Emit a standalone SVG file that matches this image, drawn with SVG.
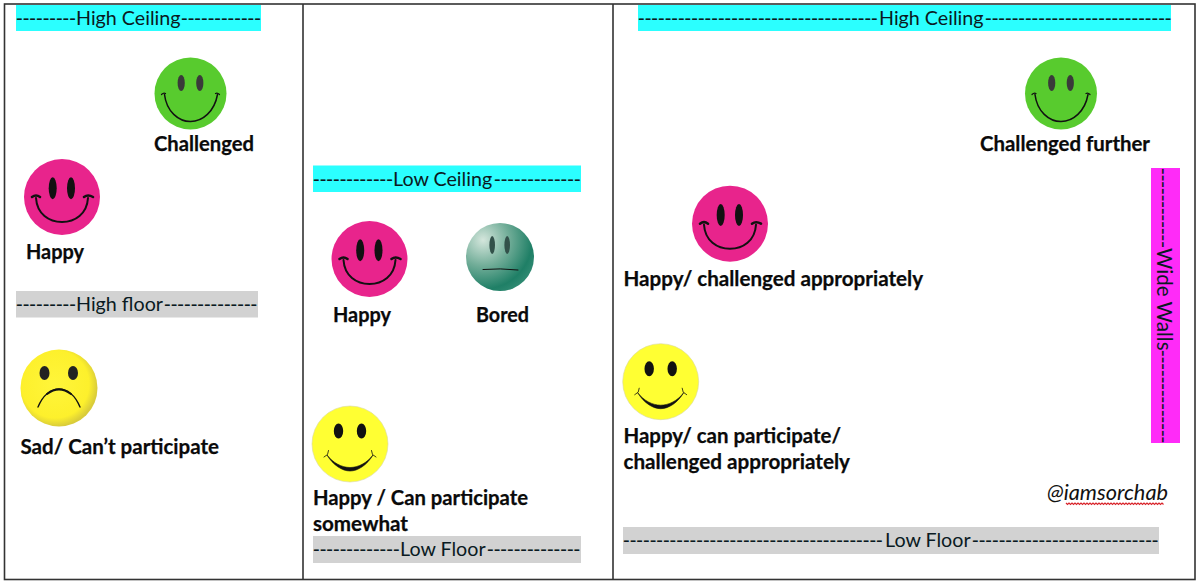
<svg xmlns="http://www.w3.org/2000/svg" width="1200" height="585" viewBox="0 0 1200 585">
<style>
.bar{font-family:Lato,"Liberation Sans",sans-serif;font-size:19.7px;fill:#0a1a22}
.d{font-family:"Liberation Sans",Arial,sans-serif;font-size:20px}
.w{font-size:20.600px}
.lb{font-family:Lato,"Liberation Sans",sans-serif;font-size:20.500px;font-weight:700;fill:#0a0a0a;stroke:#0a0a0a;stroke-width:.25}
.fr{fill:none;stroke:#333;stroke-width:1.600}
.cy{fill:#2bffff}.gy{fill:#d2d2d2}.mg{fill:#ff2bf8}
.m{fill:none;stroke:#111;stroke-linecap:round}
</style>
<defs>
<radialGradient id="gs" cx="0.45" cy="0.45" r="0.55"><stop offset="0" stop-color="#fff53a"/><stop offset="0.8" stop-color="#fdf02c"/><stop offset="1" stop-color="#d9cc3a"/></radialGradient>
<radialGradient id="gb" cx="0.25" cy="0.25" r="0.85"><stop offset="0" stop-color="#d4e6dc"/><stop offset="0.45" stop-color="#71ad98"/><stop offset="0.85" stop-color="#1f7f66"/><stop offset="1" stop-color="#2f8a72"/></radialGradient>
<g id="fPink"><circle r="38" fill="#e8248c"/><ellipse cx="-9.300" cy="-8.700" rx="4" ry="11" fill="#111"/><ellipse cx="9" cy="-8.700" rx="4" ry="11" fill="#111"/><path class="m" stroke-width="2" d="M-26 1C-25 17-13 25 0 25S25 17 26 1"/><path class="m" stroke-width="2.600" d="M-30 0Q-26-3-22 0M22 0Q26-3 31 0"/></g>
<g id="fGreen"><circle r="36" fill="#58cb2e"/><ellipse cx="-9.300" cy="-10.500" rx="3.600" ry="8" fill="#3a3a3a"/><ellipse cx="9.300" cy="-10.500" rx="3.600" ry="8" fill="#3a3a3a"/><path class="m" stroke-width="1.500" d="M-26 1C-24 18-12 28 0 28S24 18 27 1"/><path class="m" stroke-width="1.200" d="M-29 1Q-27-1-25 0M25 0Q27-1 29 1"/></g>
<g id="fYellow"><circle r="38" fill="#ffff33" stroke="#d8d8a0" stroke-width=".6"/><ellipse cx="-11.500" cy="-13" rx="4.700" ry="7.500" fill="#111"/><ellipse cx="11.500" cy="-13" rx="4.700" ry="7.500" fill="#111"/><path fill="#111" d="M-23 11C-17 21-8 27 0 27S17 21 23 11C17 19 8 23.500 0 23.500S-17 19-23 11Z" stroke="#111" stroke-width=".6"/><path class="m" stroke-width=".8" d="M-26 13L-22.500 10.500L-21.500 6.500M26 13L22.500 10.500L21.500 6.500"/></g>
<g id="fSad"><circle r="38.500" fill="url(#gs)"/><ellipse cx="-14.500" cy="-15" rx="5" ry="7" fill="#222"/><ellipse cx="14" cy="-15" rx="5" ry="7" fill="#222"/><path class="m" stroke-width="1.400" d="M-21 19C-16 7-8 1 0 1S16 7 21 19"/><path class="m" stroke-width="2" d="M-12 6Q0-3 12 6"/></g>
<g id="fBored"><circle r="34" fill="url(#gb)"/><ellipse cx="-7.800" cy="-12" rx="2.800" ry="9" fill="#33514a"/><ellipse cx="7.200" cy="-12" rx="2.800" ry="9" fill="#33514a"/><path class="m" stroke="#1c3a32" stroke-width="1" d="M-17 12.500Q0 11 18 13"/></g>
</defs>
<rect width="1200" height="585" fill="#fff"/>
<g id="frame"><rect class="fr" x="4.500" y="4" width="1190.500" height="575.500"/><path class="fr" d="M303 4V579.500M613 4V579.500"/></g>
<g id="bars">
<g id="high-ceiling-left"><rect class="cy" x="16" y="5" width="245" height="26"/><text class="bar" y="25"><tspan class="d" x="16">---------</tspan><tspan x="76">High Ceiling</tspan><tspan class="d" x="181">------------</tspan></text></g>
<g id="high-floor"><rect class="gy" x="16" y="291" width="242" height="26.500"/><text class="bar" y="311"><tspan class="d" x="16">---------</tspan><tspan x="76">High floor</tspan><tspan class="d" x="164">--------------</tspan></text></g>
<g id="low-ceiling"><rect class="cy" x="313" y="165.500" width="268" height="26.500"/><text class="bar" y="186"><tspan class="d" x="313">------------</tspan><tspan x="393">Low Ceiling</tspan><tspan class="d" x="494">-------------</tspan></text></g>
<g id="low-floor-mid"><rect class="gy" x="313" y="536" width="268" height="27"/><text class="bar" y="556"><tspan class="d" x="313">-------------</tspan><tspan x="400">Low Floor</tspan><tspan class="d" x="487">--------------</tspan></text></g>
<g id="high-ceiling-right"><rect class="cy" x="638" y="5" width="533" height="26"/><text class="bar" y="25"><tspan class="d" x="638">------------------------------------</tspan><tspan x="879">High Ceiling</tspan><tspan class="d" x="985">----------------------------</tspan></text></g>
<g id="low-floor-right"><rect class="gy" x="623" y="527" width="536" height="27"/><text class="bar" y="547"><tspan class="d" x="623">---------------------------------------</tspan><tspan x="885">Low Floor</tspan><tspan class="d" x="972">----------------------------</tspan></text></g>
<g id="wide-walls"><rect class="mg" x="1151" y="168" width="29" height="275"/><text class="bar" transform="translate(1157 168) rotate(90)"><tspan class="d" x="0">------------</tspan><tspan class="w" x="80">Wide Walls</tspan><tspan class="d" x="182">--------------</tspan></text></g>
</g>
<g id="n-challenged"><use href="#fGreen" x="190.500" y="93.500"/><text class="lb" x="154" y="151" textLength="100" lengthAdjust="spacingAndGlyphs">Challenged</text></g>
<g id="n-happy-left"><use href="#fPink" x="62" y="197"/><text class="lb" x="26" y="259" textLength="58" lengthAdjust="spacingAndGlyphs">Happy</text></g>
<g id="n-sad"><use href="#fSad" x="59" y="388"/><text class="lb" x="20.500" y="454" textLength="198.500" lengthAdjust="spacingAndGlyphs">Sad/ Can’t participate</text></g>
<g id="n-happy-mid"><use href="#fPink" x="369.500" y="259"/><text class="lb" x="333" y="322" textLength="58" lengthAdjust="spacingAndGlyphs">Happy</text></g>
<g id="n-bored"><use href="#fBored" x="500" y="257"/><text class="lb" x="476" y="322" textLength="53" lengthAdjust="spacingAndGlyphs">Bored</text></g>
<g id="n-somewhat"><use href="#fYellow" x="350" y="444"/><text class="lb" x="313" y="505" textLength="215" lengthAdjust="spacingAndGlyphs">Happy / Can participate</text><text class="lb" x="313" y="531" textLength="95" lengthAdjust="spacingAndGlyphs">somewhat</text></g>
<g id="n-further"><use href="#fGreen" x="1061" y="93.500"/><text class="lb" x="980" y="151" textLength="170" lengthAdjust="spacingAndGlyphs">Challenged further</text></g>
<g id="n-appropriately"><use href="#fPink" x="730" y="223.700"/><text class="lb" x="623.500" y="285.500" textLength="299.500" lengthAdjust="spacingAndGlyphs">Happy/ challenged appropriately</text></g>
<g id="n-can-participate"><use href="#fYellow" x="660.700" y="381.700"/><text class="lb" x="623.500" y="442.500" textLength="217.500" lengthAdjust="spacingAndGlyphs">Happy/ can participate/</text><text class="lb" x="623.500" y="468.500" textLength="226.500" lengthAdjust="spacingAndGlyphs">challenged appropriately</text></g>
<g id="credit"><text x="1047" y="500" font-family="Lato,'Liberation Sans',sans-serif" font-size="22" font-style="italic" fill="#111" textLength="121" lengthAdjust="spacingAndGlyphs">@iamsorchab</text><path fill="none" stroke="#d8232a" stroke-width="1.200" d="M1066 503l1.500 1.500 1.500-1.500 1.500 1.500 1.500-1.500 1.500 1.500 1.500-1.500 1.500 1.500 1.500-1.500 1.500 1.500 1.500-1.500 1.500 1.500 1.500-1.500 1.500 1.500 1.500-1.500 1.500 1.500 1.500-1.500 1.500 1.500 1.500-1.500 1.500 1.500 1.500-1.500 1.500 1.500 1.500-1.500 1.500 1.500 1.500-1.500 1.500 1.500 1.500-1.500 1.500 1.500 1.500-1.500 1.500 1.500 1.500-1.500 1.500 1.500 1.500-1.500 1.500 1.500 1.500-1.500 1.500 1.500 1.500-1.500 1.500 1.500 1.500-1.500 1.500 1.500 1.500-1.500 1.500 1.500 1.500-1.500 1.500 1.500 1.500-1.500 1.500 1.500 1.500-1.500 1.500 1.500 1.500-1.500 1.500 1.500 1.500-1.500 1.500 1.500 1.500-1.500 1.500 1.500 1.500-1.500 1.500 1.500 1.500-1.500 1.500 1.500 1.500-1.500 1.500 1.500 1.500-1.500 1.500 1.500 1.500-1.500 1.500 1.500 1.500-1.500 1.500 1.500"/></g>
</svg>
